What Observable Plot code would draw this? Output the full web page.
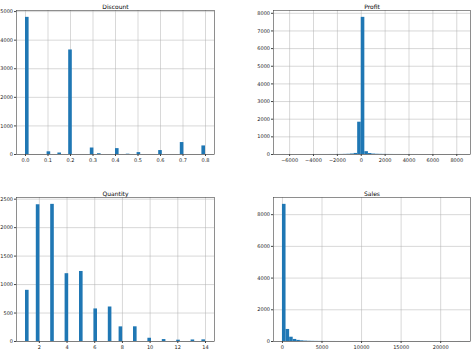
<!DOCTYPE html>
<html>
<head>
<meta charset="utf-8">
<script src="https://cdn.jsdelivr.net/npm/d3@7"></script>
<script src="https://cdn.jsdelivr.net/npm/@observablehq/plot@0.6"></script>
<style>
  html, body { margin: 0; padding: 0; background: white; }
  #wrap { position: relative; width: 474px; height: 351px; background: white; font-family: "DejaVu Sans", sans-serif; }
  #wrap > div { position: absolute; }
</style>
</head>
<body>
<div id="wrap">
  <div id="p1" style="left:0;top:0"></div>
  <div id="p2" style="left:237px;top:0"></div>
  <div id="p3" style="left:0;top:175px"></div>
  <div id="p4" style="left:237px;top:175px"></div>
</div>
<script>
// ---- data ----
const discountValues = [0, 0.1, 0.15, 0.2, 0.3, 0.32, 0.4, 0.45, 0.5, 0.6, 0.7, 0.8];
const discountCounts = [4798, 94, 52, 3657, 227, 27, 206, 11, 66, 138, 418, 300];
const discountRange = [0, 0.8];
const discountXTicks = [0, 0.1, 0.2, 0.3, 0.4, 0.5, 0.6, 0.7, 0.8];
const discountYTicks = [0, 1000, 2000, 3000, 4000, 5000];

const quantityValues = [1, 2, 3, 4, 5, 6, 7, 8, 9, 10, 11, 12, 13, 14];
const quantityCounts = [899, 2402, 2409, 1191, 1230, 572, 606, 257, 258, 57, 34, 23, 27, 29];
const quantityRange = [1, 14];
const quantityXTicks = [2, 4, 6, 8, 10, 12, 14];
const quantityYTicks = [0, 500, 1000, 1500, 2000, 2500];

// 50 equal-width bins over the range
const profitRange = [-6599.978, 8399.976];
const profitBinCounts = [1, 0, 0, 0, 0, 0, 0, 0, 0, 1, 1, 1, 1, 2, 2, 3, 4, 8, 14, 28, 60, 1830, 7770, 160, 55, 25, 14, 9, 6, 4, 3, 2, 2, 1, 1, 1, 1, 1, 0, 0, 0, 0, 0, 0, 0, 0, 0, 0, 0, 1];
const profitXTicks = [-6000, -4000, -2000, 0, 2000, 4000, 6000, 8000];
const profitYTicks = [0, 1000, 2000, 3000, 4000, 5000, 6000, 7000, 8000];

const salesRange = [0.444, 22638.48];
const salesBinCounts = [8650, 760, 270, 130, 70, 42, 25, 16, 10, 7, 5, 4, 3, 2, 2, 1, 1, 1, 1, 0, 0, 0, 0, 0, 0, 0, 1, 0, 0, 0, 0, 0, 0, 0, 0, 0, 0, 0, 0, 0, 0, 0, 0, 0, 0, 0, 0, 0, 0, 1];
const salesXTicks = [0, 5000, 10000, 15000, 20000];
const salesYTicks = [0, 2000, 4000, 6000, 8000];

const BAR = "#1f77b4";
const NBINS = 50;

// bins from discrete values (pandas-style 50 bins)
function binsFromValues(values, counts, range) {
  const w = (range[1] - range[0]) / NBINS;
  return values.map((v, i) => {
    let k = Math.floor((v - range[0]) / w + 1e-9);
    if (k >= NBINS) k = NBINS - 1;
    return {x1: range[0] + k * w, x2: range[0] + (k + 1) * w, y: counts[i]};
  });
}
function binsFromCounts(counts, range) {
  const w = (range[1] - range[0]) / counts.length;
  return counts.map((c, k) => ({x1: range[0] + k * w, x2: range[0] + (k + 1) * w, y: c})).filter(d => d.y > 0);
}

function hist({title, bins, range, xTicks, yTicks, xFmt, width, height, margins}) {
  const span = range[1] - range[0];
  const xDomain = [range[0] - 0.05 * span, range[1] + 0.05 * span];
  const yMax = d3.max(bins, d => d.y) * 1.05;
  return Plot.plot({
    width, height,
    marginLeft: margins[0], marginRight: margins[1], marginTop: margins[2], marginBottom: margins[3],
    style: {fontFamily: "DejaVu Sans, sans-serif", fontSize: "5px", color: "#222", background: "white", overflow: "visible"},
    x: {domain: xDomain},
    y: {domain: [0, yMax]},
    marks: [
      Plot.gridX(xTicks, {stroke: "#b0b0b0", strokeOpacity: 1, strokeWidth: 0.5}),
      Plot.gridY(yTicks, {stroke: "#b0b0b0", strokeOpacity: 1, strokeWidth: 0.5}),
      Plot.rectY(bins, {x1: "x1", x2: "x2", y1: 0, y2: "y", fill: BAR, insetLeft: 0, insetRight: 0}),
      Plot.frame({stroke: "#444", strokeWidth: 0.6}),
      Plot.axisX(xTicks, {tickSize: 2, tickPadding: 1.5, fontSize: 5, tickFormat: xFmt, label: null, stroke: "#444"}),
      Plot.axisY(yTicks, {tickSize: 2, tickPadding: 1.5, fontSize: 5, tickFormat: d => String(d), label: null, stroke: "#444"}),
      Plot.text([title], {frameAnchor: "top", dy: -5.5, fontSize: 6, fill: "black"})
    ]
  });
}

document.getElementById("p1").append(hist({
  title: "Discount",
  bins: binsFromValues(discountValues, discountCounts, discountRange),
  range: discountRange, xTicks: discountXTicks, yTicks: discountYTicks,
  xFmt: d => d.toFixed(1),
  width: 237, height: 175, margins: [16, 23, 10, 21]
}));
document.getElementById("p2").append(hist({
  title: "Profit",
  bins: binsFromCounts(profitBinCounts, profitRange),
  range: profitRange, xTicks: profitXTicks, yTicks: profitYTicks,
  xFmt: d => d < 0 ? "\u2212" + Math.abs(d) : String(d),
  width: 237, height: 175, margins: [36, 4, 10, 21]
}));
document.getElementById("p3").append(hist({
  title: "Quantity",
  bins: binsFromValues(quantityValues, quantityCounts, quantityRange),
  range: quantityRange, xTicks: quantityXTicks, yTicks: quantityYTicks,
  xFmt: d => String(d),
  width: 237, height: 176, margins: [16, 23, 22, 10]
}));
document.getElementById("p4").append(hist({
  title: "Sales",
  bins: binsFromCounts(salesBinCounts, salesRange),
  range: salesRange, xTicks: salesXTicks, yTicks: salesYTicks,
  xFmt: d => String(d),
  width: 237, height: 176, margins: [36, 4, 22, 10]
}));
</script>
</body>
</html>
